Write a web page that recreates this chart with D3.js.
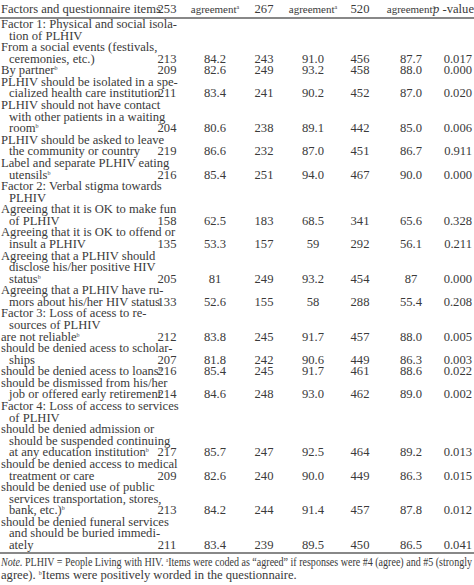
<!DOCTYPE html><html><head><meta charset="utf-8">
<script src="https://cdn.jsdelivr.net/npm/d3@7"></script>
<style>body{margin:0;background:#fff}</style></head><body>
<script>
const headers=["Factors and questionnaire items","253","agreement","267","agreement","520","agreement","p -value"];
const items=[
 {lines:["Factor 1: Physical and social isola-","tion of PLHIV"]},
 {lines:["From a social events (festivals,","ceremonies, etc.)"],v:["213","84.2","243","91.0","456","87.7","0.017"]},
 {lines:["By partner^"],v:["209","82.6","249","93.2","458","88.0","0.000"]},
 {lines:["PLHIV should be isolated in a spe-","cialized health care institution"],v:["211","83.4","241","90.2","452","87.0","0.020"]},
 {lines:["PLHIV should not have contact","with other patients in a waiting","room^"],v:["204","80.6","238","89.1","442","85.0","0.006"]},
 {lines:["PLHIV should be asked to leave","the community or country"],v:["219","86.6","232","87.0","451","86.7","0.911"]},
 {lines:["Label and separate PLHIV eating","utensils^"],v:["216","85.4","251","94.0","467","90.0","0.000"]},
 {lines:["Factor 2: Verbal stigma towards","PLHIV"]},
 {lines:["Agreeing that it is OK to make fun","of PLHIV"],v:["158","62.5","183","68.5","341","65.6","0.328"]},
 {lines:["Agreeing that it is OK to offend or","insult a PLHIV"],v:["135","53.3","157","59","292","56.1","0.211"]},
 {lines:["Agreeing that a PLHIV should","disclose his/her positive HIV","status^"],v:["205","81","249","93.2","454","87","0.000"]},
 {lines:["Agreeing that a PLHIV have ru-","mors about his/her HIV status"],v:["133","52.6","155","58","288","55.4","0.208"]},
 {lines:["Factor 3: Loss of acess to re-","sources of PLHIV"]},
 {lines:["are not reliable^"],v:["212","83.8","245","91.7","457","88.0","0.005"]},
 {lines:["should be denied acess to scholar-","ships"],v:["207","81.8","242","90.6","449","86.3","0.003"]},
 {lines:["should be denied acess to loans^"],v:["216","85.4","245","91.7","461","88.6","0.022"]},
 {lines:["should be dismissed from his/her","job or offered early retirement"],v:["214","84.6","248","93.0","462","89.0","0.002"]},
 {lines:["Factor 4: Loss of access to services","of PLHIV"]},
 {lines:["should be denied admission or","should be suspended continuing","at any education institution^"],v:["217","85.7","247","92.5","464","89.2","0.013"]},
 {lines:["should be denied access to medical","treatment or care"],v:["209","82.6","240","90.0","449","86.3","0.015"]},
 {lines:["should be denied use of public","services transportation, stores,","bank, etc.)^"],v:["213","84.2","244","91.4","457","87.8","0.012"]},
 {lines:["should be denied funeral services","and should be buried immedi-","ately"],v:["211","83.4","239","89.5","450","86.5","0.041"]}
];
const W=474,H=585,col="#3a3a3a";
const svg=d3.select("body").append("svg").attr("width",W).attr("height",H)
 .style("font-family","'Liberation Serif',serif").style("font-size","12.6px").attr("fill",col);
const nLines=d3.sum(items,d=>d.lines.length);
const y=d3.scaleLinear().domain([0,nLines-1]).range([28,549]);
const colX=[167,215,264,313,360,411,458];
const hy=13;
svg.append("text").attr("x",1).attr("y",hy).text(headers[0]);
headers.slice(1).forEach((h,i)=>{
 const t=svg.append("text").attr("x",colX[i]).attr("y",hy).attr("text-anchor",i==6?"end":"middle").attr("font-size",i%2==1?"11px":null);
 if(i==6){t.attr("x",474);t.append("tspan").attr("font-style","italic").text("p");t.append("tspan").text(" -value");}
 else{t.append("tspan").text(h);if(i%2==1)t.append("tspan").attr("font-size","6px").attr("dy",-4).text("a");}
});
svg.append("line").attr("x1",0).attr("x2",W).attr("y1",18).attr("y2",18).attr("stroke","#888").attr("stroke-width",2);
let li=0;
items.forEach(it=>{
 it.lines.forEach((l,j)=>{
  const t=svg.append("text").attr("x",j==0?1:9).attr("y",y(li));
  const sup=l.endsWith("^");
  t.append("tspan").text(sup?l.slice(0,-1):l);
  if(sup)t.append("tspan").attr("font-size","6px").attr("dy",-4).text("b");
  if(j==it.lines.length-1&&it.v){
   it.v.forEach((v,k)=>svg.append("text").attr("x",k==6?472:colX[k]).attr("y",y(li)).attr("text-anchor",k==6?"end":"middle").text(v));
  }
  li++;
 });
});
svg.append("line").attr("x1",0).attr("x2",W).attr("y1",553).attr("y2",553).attr("stroke","#888").attr("stroke-width",2);
const n1=svg.append("text").attr("x",1).attr("y",566).attr("textLength",471).attr("lengthAdjust","spacingAndGlyphs");
n1.append("tspan").attr("font-style","italic").text("Note.");
n1.append("tspan").text(" PLHIV = People Living with HIV. ");
n1.append("tspan").attr("font-size","6px").attr("dy",-4).text("a");
n1.append("tspan").attr("dy",4).text("Items were coded as “agreed” if responses were #4 (agree) and #5 (strongly");
const n2=svg.append("text").attr("x",1).attr("y",579);
n2.append("tspan").text("agree). ");
n2.append("tspan").attr("font-size","6px").attr("dy",-4).text("b");
n2.append("tspan").attr("dy",4).text("Items were positively worded in the questionnaire.");
</script></body></html>
